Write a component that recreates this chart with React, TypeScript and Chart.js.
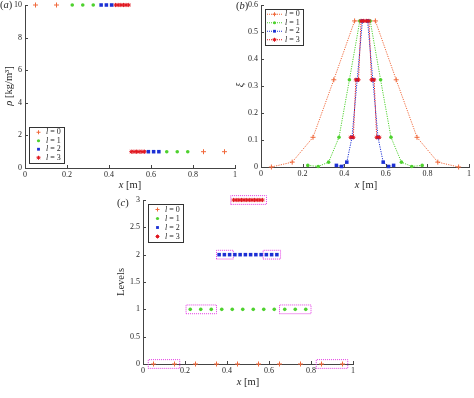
import { useEffect, useRef } from 'react';
import { Chart, registerables } from 'chart.js';
Chart.register(...registerables);

// ---------- data ----------
const LEVELS = ['0', '1', '2', '3'];
const COLORS = ['#f0683a', '#4ed12e', '#1c30d4', '#e0151e'];
const POINT_STYLES = ['cross', 'circle', 'rect', 'star'];

// cell centres of every level (used in panel c and b)
const X_L0 = [0.05, 0.15, 0.25, 0.35, 0.45, 0.55, 0.65, 0.75, 0.85, 0.95];
const X_L1 = [0.225, 0.275, 0.325, 0.375, 0.425, 0.475, 0.525, 0.575, 0.625, 0.675, 0.725, 0.775];
const X_L2 = [0.3625, 0.3875, 0.4125, 0.4375, 0.4625, 0.4875, 0.5125, 0.5375, 0.5625, 0.5875, 0.6125, 0.6375];
const X_L3 = [0.43125, 0.44375, 0.45625, 0.46875, 0.48125, 0.49375, 0.50625, 0.51875, 0.53125, 0.54375, 0.55625, 0.56875];

// (a) density on the leaf cells
const RHO_X_L0 = [0.05, 0.15, 0.85, 0.95];
const RHO_L0 = [10, 10, 1, 1];
const RHO_X_L1 = [0.225, 0.275, 0.325, 0.675, 0.725, 0.775];
const RHO_L1 = [10, 10, 10, 1, 1, 1];
const RHO_X_L2 = [0.3625, 0.3875, 0.4125, 0.5875, 0.6125, 0.6375];
const RHO_L2 = [10, 10, 10, 1, 1, 1];
const RHO_X_L3 = [0.43125, 0.44375, 0.45625, 0.46875, 0.48125, 0.49375, 0.50625, 0.51875, 0.53125, 0.54375, 0.55625, 0.56875];
const RHO_L3 = [10, 10, 10, 10, 10, 10, 1, 1, 1, 1, 1, 1];

// (b) refinement indicator xi per level
const XI_L0 = [0.0, 0.018, 0.11, 0.323, 0.541, 0.541, 0.323, 0.11, 0.018, 0.0];
const XI_L1 = [0.006, 0.002, 0.018, 0.11, 0.323, 0.541, 0.541, 0.323, 0.11, 0.018, 0.002, 0.006];
const XI_L2 = [0.006, 0.002, 0.018, 0.11, 0.323, 0.541, 0.541, 0.323, 0.11, 0.018, 0.002, 0.006];
const XI_L3 = [0.11, 0.11, 0.323, 0.323, 0.541, 0.541, 0.541, 0.541, 0.323, 0.323, 0.11, 0.11];

// (c) level of each cell
const LV_L0 = [0, 0, 0, 0, 0, 0, 0, 0, 0, 0];
const LV_L1 = [1, 1, 1, 1, 1, 1, 1, 1, 1, 1, 1, 1];
const LV_L2 = [2, 2, 2, 2, 2, 2, 2, 2, 2, 2, 2, 2];
const LV_L3 = [3, 3, 3, 3, 3, 3, 3, 3, 3, 3, 3, 3];

// leaf ranges (x extents) framed by dotted boxes in (c)
const LEAF_L0 = [[0.025, 0.175], [0.825, 0.975]];
const LEAF_L1 = [[0.205, 0.35], [0.65, 0.8]];
const LEAF_L2 = [[0.35, 0.43], [0.572, 0.655]];
const LEAF_L3 = [[0.418, 0.588]];

// tick settings
const X_TICK_STEP = 0.2;
const RHO_TICK_STEP = 2;
const XI_TICK_STEP = 0.1;
const LV_TICK_STEP = 0.5;

// ---------- styling helpers ----------
const SERIF = '"Liberation Serif", "Times New Roman", serif';
const TXT = '#262626';
const AX = '#444444';
const BOX = '#e33ce3';
const BOX_HALF = 0.08;

type Run = { t: string; i?: boolean };
const fontOf = (r: Run, size: number) => `${r.i ? 'italic ' : ''}${size}px ${SERIF}`;

function drawRuns(ctx: CanvasRenderingContext2D, runs: Run[], x: number, y: number, size: number, rot = 0, align: 'center' | 'left' = 'center') {
  ctx.save();
  ctx.translate(x, y);
  if (rot) ctx.rotate(rot);
  ctx.textBaseline = 'middle';
  ctx.textAlign = 'left';
  ctx.fillStyle = TXT;
  let total = 0;
  const ws = runs.map((r) => {
    ctx.font = fontOf(r, size);
    const w = ctx.measureText(r.t).width;
    total += w;
    return w;
  });
  let cx = align === 'center' ? -total / 2 : 0;
  runs.forEach((r, k) => {
    ctx.font = fontOf(r, size);
    ctx.fillText(r.t, cx, 0);
    cx += ws[k];
  });
  ctx.restore();
}

function drawMarker(ctx: CanvasRenderingContext2D, style: string, x: number, y: number, r: number, color: string) {
  ctx.save();
  ctx.strokeStyle = color;
  ctx.fillStyle = color;
  ctx.lineWidth = 1;
  ctx.setLineDash([]);
  ctx.beginPath();
  if (style === 'circle') {
    ctx.arc(x, y, r, 0, Math.PI * 2);
    ctx.fill();
  } else if (style === 'rect') {
    const s = r * Math.SQRT1_2;
    ctx.fillRect(x - s, y - s, 2 * s, 2 * s);
  } else {
    ctx.moveTo(x - r, y); ctx.lineTo(x + r, y);
    ctx.moveTo(x, y - r); ctx.lineTo(x, y + r);
    if (style === 'star') {
      const d = r * Math.SQRT1_2;
      ctx.moveTo(x - d, y - d); ctx.lineTo(x + d, y + d);
      ctx.moveTo(x - d, y + d); ctx.lineTo(x + d, y - d);
    }
    ctx.stroke();
  }
  ctx.restore();
}

type LegendCfg = { dx: number; dy: number; anchor: 'top' | 'bottom'; w: number; h: number; line: boolean; markX: number; textX: number };
type TitleCfg = { runs: Run[]; x: number; y: number; rot?: number; size: number; align?: 'center' | 'left' };

function decoPlugin(legend: LegendCfg, titles: TitleCfg[]) {
  return {
    id: 'deco',
    afterDraw(chart: any) {
      const { ctx, chartArea: ca, scales } = chart;
      // inward tick marks
      ctx.save();
      ctx.strokeStyle = AX;
      ctx.lineWidth = 1;
      ctx.beginPath();
      scales.x.ticks.forEach((t: any) => {
        const px = Math.round(scales.x.getPixelForValue(t.value)) + 0.5;
        ctx.moveTo(px, ca.bottom);
        ctx.lineTo(px, ca.bottom - 3);
      });
      scales.y.ticks.forEach((t: any) => {
        const py = Math.round(scales.y.getPixelForValue(t.value)) + 0.5;
        ctx.moveTo(ca.left, py);
        ctx.lineTo(ca.left + 3, py);
      });
      ctx.stroke();
      ctx.restore();

      // legend box
      const bx = ca.left + legend.dx;
      const by = legend.anchor === 'top' ? ca.top + legend.dy : ca.bottom - legend.dy - legend.h;
      ctx.save();
      ctx.fillStyle = '#ffffff';
      ctx.fillRect(bx, by, legend.w, legend.h);
      ctx.strokeStyle = '#333333';
      ctx.lineWidth = 1;
      ctx.strokeRect(Math.round(bx) + 0.5, Math.round(by) + 0.5, legend.w, legend.h);
      ctx.restore();
      const step = (legend.h - 2) / LEVELS.length;
      LEVELS.forEach((lv, k) => {
        const ry = by + 1 + step * (k + 0.5);
        if (legend.line) {
          ctx.save();
          ctx.strokeStyle = COLORS[k];
          ctx.lineWidth = 1;
          ctx.setLineDash([1, 1]);
          ctx.beginPath();
          ctx.moveTo(bx + 2, ry);
          ctx.lineTo(bx + legend.markX * 2 - 2, ry);
          ctx.stroke();
          ctx.restore();
        }
        drawMarker(ctx, POINT_STYLES[k], bx + legend.markX, ry, k === 1 ? 1.6 : 2, COLORS[k]);
        drawRuns(ctx, [{ t: 'l', i: true }, { t: ' = ' + lv }], bx + legend.textX, ry, 8, 0, 'left');
      });

      titles.forEach((tt) => drawRuns(ctx, tt.runs, tt.x, tt.y, tt.size, tt.rot || 0, tt.align || 'center'));
    },
  };
}

function axis(min: number, max: number, step: number, size: number, isX: boolean) {
  return {
    type: 'linear',
    min,
    max,
    ticks: {
      stepSize: step,
      font: { family: SERIF, size: 8 },
      color: TXT,
      padding: isX ? 2 : 3,
      maxRotation: 0,
      autoSkip: false,
      callback: (v: number) => String(Number(Number(v).toFixed(3))),
    },
    grid: { display: false, drawTicks: false },
    border: { display: true, color: AX, width: 1 },
    afterFit: (s: any) => {
      if (isX) {
        s.height = size;
        s.paddingLeft = 0;
        s.paddingRight = 0;
      } else {
        s.width = size;
        s.paddingTop = 0;
        s.paddingBottom = 0;
      }
    },
  };
}

const pts = (xs: number[], ys: number[]) => xs.map((x, i) => ({ x, y: ys[i] }));

function markerDs(k: number, data: { x: number; y: number }[], line: boolean) {
  const filled = POINT_STYLES[k] === 'circle' || POINT_STYLES[k] === 'rect';
  return {
    data,
    showLine: line,
    borderColor: COLORS[k],
    backgroundColor: COLORS[k],
    borderWidth: 1,
    borderDash: [1.2, 1.2],
    pointStyle: POINT_STYLES[k],
    pointRadius: k === 0 ? 2.5 : k === 1 ? 1.8 : k === 2 ? 2.5 : 2.1,
    pointBorderWidth: filled ? 0 : 1,
    pointBackgroundColor: COLORS[k],
    pointBorderColor: COLORS[k],
    clip: false,
    order: 1,
  };
}

function boxDs(ranges: number[][], level: number) {
  return ranges.map(([a, b]) => ({
    data: [
      { x: a, y: level - BOX_HALF },
      { x: b, y: level - BOX_HALF },
      { x: b, y: level + BOX_HALF },
      { x: a, y: level + BOX_HALF },
      { x: a, y: level - BOX_HALF },
    ],
    showLine: true,
    borderColor: BOX,
    borderWidth: 1,
    borderDash: [1, 1],
    pointRadius: 0,
    clip: false,
    order: 2,
  }));
}

const X_TITLE: Run[] = [{ t: 'x', i: true }, { t: ' [m]' }];

function configA() {
  return {
    type: 'scatter',
    data: {
      datasets: [
        markerDs(0, pts(RHO_X_L0, RHO_L0), false),
        markerDs(1, pts(RHO_X_L1, RHO_L1), false),
        markerDs(2, pts(RHO_X_L2, RHO_L2), false),
        markerDs(3, pts(RHO_X_L3, RHO_L3), false),
      ],
    },
    options: {
      responsive: false,
      animation: false,
      devicePixelRatio: 1,
      layout: { padding: { left: 0, right: 5, top: 4, bottom: 0 } },
      plugins: { legend: { display: false }, tooltip: { enabled: false } },
      scales: { x: axis(0, 1, X_TICK_STEP, 27, true), y: axis(0, 10, RHO_TICK_STEP, 25, false) },
    },
    plugins: [
      decoPlugin({ dx: 4, dy: 5, anchor: 'bottom', w: 35, h: 36, line: false, markX: 9.5, textX: 17 }, [
        { runs: X_TITLE, x: 130, y: 185, size: 10.5 },
        { runs: [{ t: 'ρ', i: true }, { t: ' [kg/m³]' }], x: 9, y: 86, rot: -Math.PI / 2, size: 10.5 },
        { runs: [{ t: '(' }, { t: 'a', i: true }, { t: ')' }], x: 0, y: 5, size: 10.5, align: 'left' },
      ]),
    ],
  };
}

function configB() {
  return {
    type: 'scatter',
    data: {
      datasets: [
        markerDs(0, pts(X_L0, XI_L0), true),
        markerDs(1, pts(X_L1, XI_L1), true),
        markerDs(2, pts(X_L2, XI_L2), true),
        markerDs(3, pts(X_L3, XI_L3), true),
      ].reverse(),
    },
    options: {
      responsive: false,
      animation: false,
      devicePixelRatio: 1,
      layout: { padding: { left: 0, right: 2, top: 3, bottom: 0 } },
      plugins: { legend: { display: false }, tooltip: { enabled: false } },
      scales: { x: axis(0, 1, X_TICK_STEP, 28, true), y: axis(0, 0.6, XI_TICK_STEP, 25, false) },
    },
    plugins: [
      decoPlugin({ dx: 4, dy: 4, anchor: 'top', w: 38, h: 36, line: true, markX: 9.5, textX: 20 }, [
        { runs: X_TITLE, x: 130, y: 185, size: 10.5 },
        { runs: [{ t: 'ξ', i: true }], x: 4, y: 85, rot: -Math.PI / 2, size: 10.5 },
        { runs: [{ t: '(' }, { t: 'b', i: true }, { t: ')' }], x: 0, y: 6, size: 10.5, align: 'left' },
      ]),
    ],
  };
}

function configC() {
  return {
    type: 'scatter',
    data: {
      datasets: [
        markerDs(0, pts(X_L0, LV_L0), false),
        markerDs(1, pts(X_L1, LV_L1), false),
        markerDs(2, pts(X_L2, LV_L2), false),
        markerDs(3, pts(X_L3, LV_L3), false),
        ...boxDs(LEAF_L0, 0),
        ...boxDs(LEAF_L1, 1),
        ...boxDs(LEAF_L2, 2),
        ...boxDs(LEAF_L3, 3),
      ],
    },
    options: {
      responsive: false,
      animation: false,
      devicePixelRatio: 1,
      layout: { padding: { left: 0, right: 7, top: 12, bottom: 0 } },
      plugins: { legend: { display: false }, tooltip: { enabled: false } },
      scales: { x: axis(0, 1, X_TICK_STEP, 34, true), y: axis(0, 3, LV_TICK_STEP, 33, false) },
    },
    plugins: [
      decoPlugin({ dx: 5, dy: 4, anchor: 'top', w: 35, h: 38, line: false, markX: 9.5, textX: 17 }, [
        { runs: X_TITLE, x: 138, y: 194, size: 10.5 },
        { runs: [{ t: 'Levels' }], x: 11.5, y: 94, rot: -Math.PI / 2, size: 10.5 },
        { runs: [{ t: '(' }, { t: 'c', i: true }, { t: ')' }], x: 7, y: 15, size: 10.5, align: 'left' },
      ]),
    ],
  };
}

function Panel({ left, top, width, height, build }: { left: number; top: number; width: number; height: number; build: () => any }) {
  const ref = useRef<HTMLCanvasElement>(null);
  useEffect(() => {
    const chart = new Chart(ref.current as HTMLCanvasElement, build());
    return () => chart.destroy();
  }, []);
  return (
    <canvas
      ref={ref}
      width={width}
      height={height}
      style={{ position: 'absolute', left, top, width, height, display: 'block' }}
    />
  );
}

export default function App() {
  return (
    <div style={{ position: 'absolute', left: 0, top: 0, width: 474, height: 398, background: '#ffffff', overflow: 'hidden' }}>
      <Panel left={0} top={0} width={240} height={195} build={configA} />
      <Panel left={236} top={0} width={238} height={195} build={configB} />
      <Panel left={110} top={188} width={250} height={210} build={configC} />
    </div>
  );
}
